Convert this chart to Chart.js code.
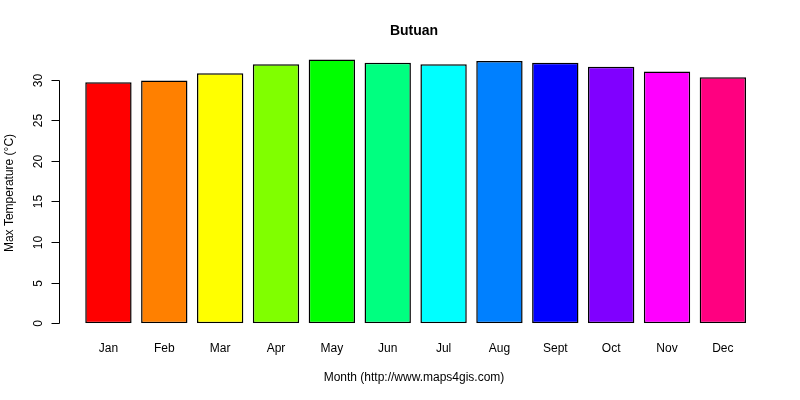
<!DOCTYPE html>
<html>
<head>
<meta charset="utf-8">
<script src="https://cdn.jsdelivr.net/npm/chart.js@4"></script>
<style>
  body { margin: 0; background: #fff; }
  canvas { display: block; }
</style>
</head>
<body>
<canvas id="chart" width="800" height="400"></canvas>
<script>
// data
const months = ['Jan', 'Feb', 'Mar', 'Apr', 'May', 'Jun', 'Jul', 'Aug', 'Sept', 'Oct', 'Nov', 'Dec'];
const maxTemp = [29.7, 29.9, 30.8, 31.9, 32.5, 32.1, 31.9, 32.3, 32.1, 31.6, 31.0, 30.3];
const barColors = ['#FF0000', '#FF8000', '#FFFF00', '#80FF00', '#00FF00', '#00FF80',
                   '#00FFFF', '#0080FF', '#0000FF', '#8000FF', '#FF00FF', '#FF0080'];
const yTicks = [0, 5, 10, 15, 20, 25, 30];

const chartTitle = 'Butuan';
const xTitle = 'Month (http://www.maps4gis.com)';
const yTitle = 'Max Temperature (°C)';

const FONT = '"Liberation Sans", Arial, sans-serif';

// R-style axes and labels, drawn from the chart's own scales
const rAxes = {
    id: 'rAxes',
    afterDraw(chart) {
        const ctx = chart.ctx;
        const x = chart.scales.x;
        const y = chart.scales.y;
        ctx.save();
        ctx.strokeStyle = '#000';
        ctx.fillStyle = '#000';
        ctx.lineWidth = 1;

        // y axis line
        const axisX = 59.5;
        ctx.beginPath();
        ctx.moveTo(axisX, Math.round(y.getPixelForValue(yTicks[0])) + 0.5);
        ctx.lineTo(axisX, Math.round(y.getPixelForValue(yTicks[yTicks.length - 1])) + 0.5);
        ctx.stroke();

        // ticks + rotated labels
        ctx.font = '12px ' + FONT;
        ctx.textAlign = 'center';
        ctx.textBaseline = 'middle';
        yTicks.forEach(v => {
            const py = Math.round(y.getPixelForValue(v)) + 0.5;
            ctx.beginPath();
            ctx.moveTo(axisX, py);
            ctx.lineTo(axisX - 8, py);
            ctx.stroke();
            ctx.save();
            ctx.translate(39, py);
            ctx.rotate(-Math.PI / 2);
            ctx.fillText(String(v), 0, 0);
            ctx.restore();
        });

        // month labels
        months.forEach((m, i) => {
            ctx.fillText(m, x.getPixelForValue(i), 349);
        });

        // axis titles
        ctx.fillText(xTitle, 414, 378);
        ctx.save();
        ctx.translate(10, 193);
        ctx.rotate(-Math.PI / 2);
        ctx.fillText(yTitle, 0, 0);
        ctx.restore();

        // main title
        ctx.font = 'bold 14px ' + FONT;
        ctx.fillText(chartTitle, 414, 31);
        ctx.restore();
    }
};

new Chart(document.getElementById('chart'), {
    type: 'bar',
    data: {
        labels: months,
        datasets: [{
            data: maxTemp,
            backgroundColor: barColors,
            borderColor: '#000',
            borderWidth: 1.5,
            borderSkipped: false,
            barPercentage: 0.83,
            categoryPercentage: 1
        }]
    },
    options: {
        responsive: false,
        animation: false,
        devicePixelRatio: 1,
        layout: { padding: { left: 80.5, right: 49.2, top: 39.1, bottom: 76.7 } },
        plugins: {
            legend: { display: false },
            tooltip: { enabled: false }
        },
        scales: {
            x: { display: false },
            y: { display: false, min: 0, max: 35 }
        }
    },
    plugins: [rAxes]
});
</script>
</body>
</html>
